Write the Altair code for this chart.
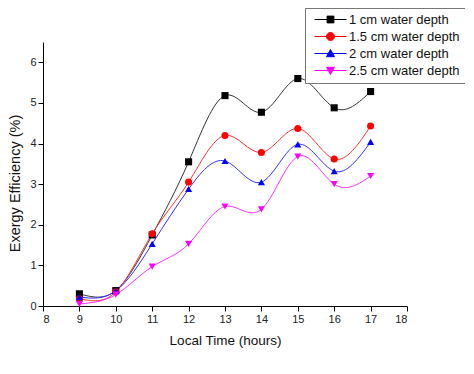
import altair as alt
import pandas as pd

hours = [9, 10, 11, 12, 13, 14, 15, 16, 17]
series_names = ["1 cm water depth", "1.5 cm water depth", "2 cm water depth", "2.5 cm water depth"]
eff_1cm = [0.30, 0.38, 1.75, 3.55, 5.18, 4.77, 5.60, 4.88, 5.28]
eff_15cm = [0.18, 0.35, 1.78, 3.05, 4.20, 3.78, 4.37, 3.62, 4.43]
eff_2cm = [0.22, 0.37, 1.53, 2.88, 3.57, 3.05, 3.98, 3.32, 4.04]
eff_25cm = [0.05, 0.28, 0.97, 1.53, 2.45, 2.38, 3.68, 3.00, 3.20]
x_ticks = [8, 9, 10, 11, 12, 13, 14, 15, 16, 17, 18]
y_ticks = [0, 1, 2, 3, 4, 5, 6]

colors = ["#000000", "#ff0000", "#0000ff", "#ff00ff"]
line_colors = ["#333333", "#ff3030", "#3030ff", "#ff30ff"]
shapes = ["square", "circle", "triangle-up", "triangle-down"]
legend_paths = [
    "M-4,0H4M-0.85,-0.85H0.85V0.85H-0.85Z",
    "M-4,0H4M-1,0A1,1 0 1,0 1,0A1,1 0 1,0 -1,0Z",
    "M-4,0H4M0,-1L1,0.8H-1Z",
    "M-4,0H4M0,1L1,-0.8H-1Z",
]

rows = []
for name, vals in zip(series_names, [eff_1cm, eff_15cm, eff_2cm, eff_25cm]):
    for h, v in zip(hours, vals):
        rows.append({"hour": h, "eff": v, "series": name})
df = pd.DataFrame(rows)

x = alt.X("hour:Q", scale=alt.Scale(domain=[8, 18], nice=False),
          axis=alt.Axis(values=x_ticks, title="Local Time (hours)", titlePadding=9,
                        titleFontSize=13.5))
y = alt.Y("eff:Q", scale=alt.Scale(domain=[0, 6.5], nice=False),
          axis=alt.Axis(values=y_ticks, title="Exergy Efficiency (%)", titlePadding=7,
                        titleFontSize=14.5, titleY=141))

lines = alt.Chart(df).mark_line(interpolate="natural", strokeWidth=1).encode(
    x=x, y=y,
    color=alt.Color("series:N", scale=alt.Scale(domain=series_names, range=line_colors), legend=None),
)

points = alt.Chart(df).mark_point(filled=True, size=50, opacity=1).encode(
    x=x, y=y,
    color=alt.Color("series:N", scale=alt.Scale(domain=series_names, range=colors), legend=None),
    shape=alt.Shape("series:N", scale=alt.Scale(domain=series_names, range=shapes), legend=None),
)

leg = alt.Legend(
    title=None, orient="none", legendX=262, legendY=-34,
    strokeColor="#777777", fillColor="white", padding=5,
    labelFontSize=13, labelFont="Liberation Sans", labelColor="#111111",
    symbolSize=64, symbolOffset=14, labelOffset=12, rowPadding=3,
    symbolStrokeWidth=1, symbolOpacity=1,
)

dummy = alt.Chart(df).transform_filter("datum.eff > 100").mark_point(filled=True, size=64).encode(
    x=x, y=y,
    fill=alt.Fill("series:N", scale=alt.Scale(domain=series_names, range=colors), legend=leg),
    stroke=alt.Stroke("series:N", scale=alt.Scale(domain=series_names, range=colors), legend=leg),
    shape=alt.Shape("series:N", scale=alt.Scale(domain=series_names, range=legend_paths), legend=leg),
)

chart = alt.layer(lines, points, dummy).resolve_scale(
    color="independent", shape="independent", fill="independent", stroke="independent"
).resolve_legend(
    color="independent", shape="independent", fill="independent", stroke="independent"
).properties(
    width=364, height=264,
    autosize=alt.AutoSizeParams(type="none"),
    padding={"left": 35, "top": 34, "right": 58, "bottom": 44},
).configure_view(stroke=None).configure_axis(
    grid=False, domainColor="#000000", tickColor="#000000", tickSize=5,
    labelFont="Liberation Sans", labelFontSize=11, labelColor="#222222",
    titleFont="Liberation Sans", titleFontSize=12.5, titleFontWeight="normal", titleColor="#111111",
    labelPadding=2,
)

chart.save("out.html", embed_options={"renderer": "svg", "actions": False})
